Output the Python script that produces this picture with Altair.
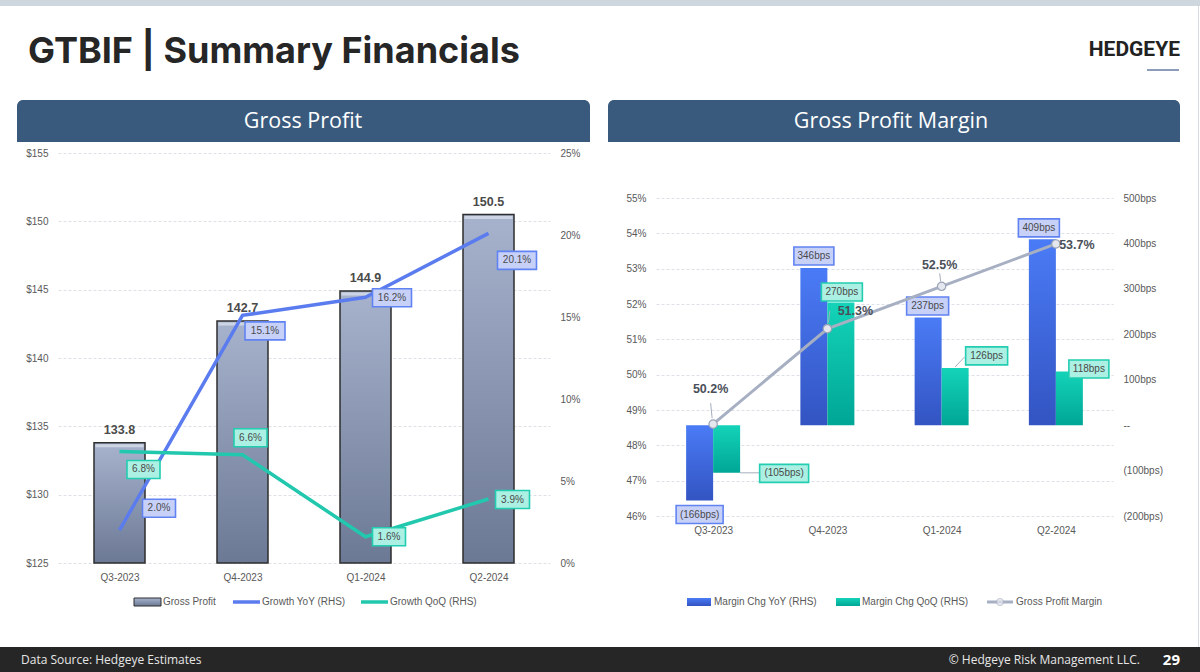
import json
import altair as alt
import pandas as pd

# ---------------- data ----------------
quarters = ["Q3-2023", "Q4-2023", "Q1-2024", "Q2-2024"]
gross_profit = [133.8, 142.7, 144.9, 150.5]            # $M
growth_yoy = [2.0, 15.1, 16.2, 20.1]                   # %
growth_qoq = [6.8, 6.6, 1.6, 3.9]                      # %
gp_margin = [48.6, 51.3, 52.5, 53.7]                   # % (plotted position)
gp_margin_labels = ["50.2%", "51.3%", "52.5%", "53.7%"]  # labels as printed
margin_chg_yoy = [-166, 346, 237, 409]                 # bps
margin_chg_qoq = [-105, 270, 126, 118]                 # bps

gp_ticks = [125, 130, 135, 140, 145, 150, 155]
growth_ticks = [0, 5, 10, 15, 20, 25]
margin_ticks = [46, 47, 48, 49, 50, 51, 52, 53, 54, 55]
bps_ticks = [-200, -100, 0, 100, 200, 300, 400, 500]

# ---------------- layout / style ----------------
L_X0, L_Y0, L_W, L_H = 58, 153, 492, 410
R_X0, R_Y0, R_W, R_H = 656, 153, 457, 363
R_TOP = 198  # pixel row of the top tick in the right panel
_span = R_Y0 + R_H - R_TOP
margin_dom = [margin_ticks[0], margin_ticks[-1] + (R_TOP - R_Y0) * (margin_ticks[-1] - margin_ticks[0]) / _span]
bps_dom = [bps_ticks[0], bps_ticks[-1] + (R_TOP - R_Y0) * (bps_ticks[-1] - bps_ticks[0]) / _span]

AX_FONT = "Liberation Sans, Arial, sans-serif"
HEAD_FONT = "Open Sans, Noto Sans, sans-serif"
LBL_COLOR = "#595959"
GRID = dict(gridColor="#dde1e6", gridWidth=1, gridDash=[3, 2])

BLUE_LINE = "#5b7cef"
TEAL_LINE = "#22c8ad"
BLUE_BOX = ("#c7d1f8", "#6183f2")
TEAL_BOX = ("#acf0e3", "#22cdb1")

# label offsets (dx, dy, box width) in pixels -- styling only
LEFT_YOY_LBL = [(39.5, -22, 33), (22.5, 15.5, 40), (26.5, 0.5, 39), (28.5, 27, 39)]
LEFT_QOQ_LBL = [(24, 18, 33), (8, -17, 33), (23.5, 0, 33), (24, 0.5, 34)]
RIGHT_YOY_LBL = [(-13.5, 14, 47), (-13.5, -12, 40), (-14, -11.5, 42), (-17, -11.5, 41)]
RIGHT_QOQ_LBL = [(71, 0.5, 49), (14.5, -10.5, 41), (45, -12, 42), (33, -2.5, 40)]
MARGIN_LBL = [(-2.5, -35), (28, -18), (-2, -21.5), (21, 1)]


def vgrad(top, bottom):
    return alt.Gradient(
        gradient="linear",
        stops=[alt.GradientStop(color=top, offset=0), alt.GradientStop(color=bottom, offset=1)],
        x1=0, x2=0, y1=0, y2=1,
    )


GRAD_GP = vgrad("#a7b3cd", "#6c7994")
GRAD_BLUE = vgrad("#4a7bf6", "#3354c2")
GRAD_TEAL = vgrad("#14d3b8", "#00a696")


def bps_text(v):
    return f"{v}bps" if v >= 0 else f"({abs(v)}bps)"


df = pd.DataFrame({
    "idx": list(range(len(quarters))),
    "quarter": quarters,
    "gp": gross_profit,
    "yoy": growth_yoy,
    "qoq": growth_qoq,
    "margin": gp_margin,
    "mlabel": gp_margin_labels,
    "myoy": margin_chg_yoy,
    "mqoq": margin_chg_qoq,
})
df["gp_txt"] = [f"{v:.1f}" for v in gross_profit]
df["yoy_txt"] = [f"{v:.1f}%" for v in growth_yoy]
df["qoq_txt"] = [f"{v:.1f}%" for v in growth_qoq]
df["myoy_txt"] = [bps_text(v) for v in margin_chg_yoy]
df["mqoq_txt"] = [bps_text(v) for v in margin_chg_qoq]

# ---------------- scales / axes ----------------
XS = alt.Scale(domain=[-0.5, len(quarters) - 0.5], nice=False, zero=False)
GP_S = alt.Scale(domain=[gp_ticks[0], gp_ticks[-1]], nice=False, zero=False)
GR_S = alt.Scale(domain=[growth_ticks[0], growth_ticks[-1]], nice=False, zero=False)
MG_S = alt.Scale(domain=margin_dom, nice=False, zero=False)
BP_S = alt.Scale(domain=bps_dom, nice=False, zero=False)

AXC = dict(ticks=False, domain=False, title=None, labelFont=AX_FONT, labelFontSize=10,
           labelColor=LBL_COLOR, labelOverlap=False)
x_axis = alt.Axis(orient="bottom", values=list(range(len(quarters))),
                  labelExpr=json.dumps(quarters) + "[datum.value]", grid=False,
                  labelPadding=9, labelFlush=False, **AXC)
gp_axis = alt.Axis(orient="left", values=gp_ticks, labelExpr="'$' + datum.value", grid=True,
                   labelPadding=10, **GRID, **AXC)
gr_axis = alt.Axis(orient="right", values=growth_ticks, labelExpr="datum.value + '%'", grid=False,
                   labelPadding=10, **AXC)
mg_axis = alt.Axis(orient="left", values=margin_ticks, labelExpr="datum.value + '%'", grid=True,
                   labelPadding=10, **GRID, **AXC)
bp_axis = alt.Axis(orient="right", values=bps_ticks,
                   labelExpr="datum.value > 0 ? datum.value + 'bps' : (datum.value < 0 ? '(' + abs(datum.value) + 'bps)' : '--')",
                   grid=False, labelPadding=10, **AXC)

AXIS_OF = {id(GP_S): gp_axis, id(GR_S): gr_axis, id(MG_S): mg_axis, id(BP_S): bp_axis}


def X():
    # the same axis definition is given in every layer so that the merged axis stays enabled
    return alt.X("idx:Q", scale=XS, axis=x_axis)


def Y(field, scale):
    return alt.Y(f"{field}:Q", scale=scale, axis=AXIS_OF[id(scale)])


# ---------------- decoration helpers (pixel positions, absolute page coords) ----------------
ONE = pd.DataFrame({"k": [0]})


def d_rect(o, x1, y1, x2, y2, **kw):
    return alt.Chart(ONE).mark_rect(**kw).encode(
        x=alt.value(x1 - o[0]), x2=alt.value(x2 - o[0]), y=alt.value(y1 - o[1]), y2=alt.value(y2 - o[1]))


def d_rule(o, x1, y1, x2, y2, **kw):
    return alt.Chart(ONE).mark_rule(**kw).encode(
        x=alt.value(x1 - o[0]), x2=alt.value(x2 - o[0]), y=alt.value(y1 - o[1]), y2=alt.value(y2 - o[1]))


def d_text(o, x, y, text, **kw):
    return alt.Chart(ONE).mark_text(text=text, **kw).encode(x=alt.value(x - o[0]), y=alt.value(y - o[1]))


def d_point(o, x, y, **kw):
    return alt.Chart(ONE).mark_point(**kw).encode(x=alt.value(x - o[0]), y=alt.value(y - o[1]))


LO = (L_X0, L_Y0)
RO = (R_X0, R_Y0)
LEG = dict(font=AX_FONT, fontSize=10, color=LBL_COLOR, align="left", baseline="middle")

deco_left = [
    d_rect(LO, 0, 0, 1200, 6, fill="#cfd7de"),
    d_rule(LO, 1198.5, 6, 1198.5, 647, color="#d5dbe2", strokeWidth=1),
    d_text(LO, 28, 63, "GTBIF | Summary Financials", font="Inter, DejaVu Sans, sans-serif", fontSize=36,
           fontWeight=700, color="#262626", align="left", baseline="alphabetic"),
    d_text(LO, 1180, 56, "HEDGEYE", font="Roboto, sans-serif", fontSize=21, fontWeight=700,
           color="#222222", align="right", baseline="alphabetic"),
    d_rule(LO, 1147, 70, 1179, 70, color="#8c9cb9", strokeWidth=2),
    d_rect(LO, 17, 100, 590, 142, fill="#3a5a7d", cornerRadiusTopLeft=6, cornerRadiusTopRight=6),
    d_text(LO, 303, 122, "Gross Profit", font=HEAD_FONT, fontSize=21.5, color="#ffffff",
           align="center", baseline="middle"),
    d_rect(LO, 0, 647, 1200, 672, fill="#262626"),
    d_text(LO, 21, 660, "Data Source: Hedgeye Estimates", font=HEAD_FONT, fontSize=12,
           color="#e6e6e6", align="left", baseline="middle"),
    d_text(LO, 1140, 660, "© Hedgeye Risk Management LLC.", font=HEAD_FONT, fontSize=12,
           color="#e6e6e6", align="right", baseline="middle"),
    d_text(LO, 1180, 660, "29", font=HEAD_FONT, fontSize=15, fontWeight=700,
           color="#ffffff", align="right", baseline="middle"),
    # legend (left panel)
    d_rect(LO, 134, 598, 161, 606, fill=GRAD_GP, stroke="#2e2e2e", strokeWidth=1),
    d_text(LO, 163, 602, "Gross Profit", **LEG),
    d_rule(LO, 233, 602, 260, 602, color=BLUE_LINE, strokeWidth=3.5),
    d_text(LO, 262, 602, "Growth YoY (RHS)", **LEG),
    d_rule(LO, 361, 602, 388, 602, color=TEAL_LINE, strokeWidth=3.5),
    d_text(LO, 390, 602, "Growth QoQ (RHS)", **LEG),
]

deco_right = [
    d_rect(RO, 608, 100, 1180, 142, fill="#3a5a7d", cornerRadiusTopLeft=6, cornerRadiusTopRight=6),
    d_text(RO, 891, 122, "Gross Profit Margin", font=HEAD_FONT, fontSize=21.5, color="#ffffff",
           align="center", baseline="middle"),
    d_rect(RO, 687, 598, 711, 606, fill=GRAD_BLUE),
    d_text(RO, 714, 602, "Margin Chg YoY (RHS)", **LEG),
    d_rect(RO, 836, 598, 860, 606, fill=GRAD_TEAL),
    d_text(RO, 862, 602, "Margin Chg QoQ (RHS)", **LEG),
    d_rule(RO, 987, 602, 1013, 602, color="#a7afc2", strokeWidth=3),
    d_point(RO, 1000, 602, filled=True, size=50, fill="#e4e7ee", stroke="#a7afc2", strokeWidth=1),
    d_text(RO, 1016, 602, "Gross Profit Margin", **LEG),
]


def box_label(i, yfield, scale, txtfield, dx, dy, w, colors, h=18):
    row = df.iloc[[i]]
    rect = alt.Chart(row).mark_rect(
        fill=colors[0], stroke=colors[1], strokeWidth=1.6,
        xOffset=dx - w / 2, x2Offset=dx + w / 2, yOffset=dy - h / 2, y2Offset=dy + h / 2,
    ).encode(x=X(), x2="idx", y=Y(yfield, scale), y2=alt.Y2(yfield))
    txt = alt.Chart(row).mark_text(
        dx=dx, dy=dy, font=AX_FONT, fontSize=10, color="#4a4a4a", align="center", baseline="middle",
    ).encode(x=X(), y=Y(yfield, scale), text=f"{txtfield}:N")
    return [rect, txt]


def leader(i, yfield, scale, x1, y1, x2, y2):
    row = df.iloc[[i]]
    return alt.Chart(row).mark_rule(
        color="#a5adbd", strokeWidth=1, xOffset=x1, yOffset=y1, x2Offset=x2, y2Offset=y2,
    ).encode(x=X(), x2="idx", y=Y(yfield, scale), y2=alt.Y2(yfield))


# ---------------- left panel: Gross Profit ----------------
bars_l = alt.Chart(df).mark_rect(
    fill=GRAD_GP, stroke="#2e2e2e", strokeWidth=1.5, xOffset=-25.5, x2Offset=25.5,
).encode(x=X(), x2="idx", y=Y("gp", GP_S), y2=alt.datum(gp_ticks[0]))
bars_hl = alt.Chart(df).mark_rect(
    fill="#cdd5e5", xOffset=-24, x2Offset=24, yOffset=1.5, y2Offset=4.5,
).encode(x=X(), x2="idx", y=Y("gp", GP_S), y2=alt.Y2("gp"))
bar_lbl = alt.Chart(df).mark_text(
    dy=-13, font=AX_FONT, fontSize=12.5, fontWeight="bold", color="#4a4a4a", baseline="middle",
).encode(x=X(), y=Y("gp", GP_S), text="gp_txt:N")

yoy_line = alt.Chart(df).mark_line(color=BLUE_LINE, strokeWidth=3.5).encode(
    x=X(), y=Y("yoy", GR_S))
qoq_line = alt.Chart(df).mark_line(color=TEAL_LINE, strokeWidth=3.5).encode(
    x=X(), y=Y("qoq", GR_S))

left_labels = []
for i, (dx, dy, w) in enumerate(LEFT_YOY_LBL):
    left_labels += box_label(i, "yoy", GR_S, "yoy_txt", dx, dy, w, BLUE_BOX)
for i, (dx, dy, w) in enumerate(LEFT_QOQ_LBL):
    left_labels += box_label(i, "qoq", GR_S, "qoq_txt", dx, dy, w, TEAL_BOX)

left = alt.layer(
    alt.layer(*deco_left, bars_l, bars_hl, bar_lbl),
    alt.layer(yoy_line, qoq_line, *left_labels),
).resolve_scale(y="independent").properties(width=L_W, height=L_H)

# ---------------- right panel: Gross Profit Margin ----------------
BW = 27
bars_yoy = alt.Chart(df).mark_rect(fill=GRAD_BLUE, xOffset=-BW, x2Offset=0).encode(
    x=X(), x2="idx", y=Y("myoy", BP_S), y2=alt.datum(0))
bars_qoq = alt.Chart(df).mark_rect(fill=GRAD_TEAL, xOffset=0, x2Offset=BW).encode(
    x=X(), x2="idx", y=Y("mqoq", BP_S), y2=alt.datum(0))

right_bps = [
    leader(0, "mqoq", BP_S, BW, 0, 47, 0),
    leader(2, "mqoq", BP_S, 13.5, -1, 23, -11),
]
for i, (dx, dy, w) in enumerate(RIGHT_YOY_LBL):
    right_bps += box_label(i, "myoy", BP_S, "myoy_txt", dx, dy, w, BLUE_BOX)
for i, (dx, dy, w) in enumerate(RIGHT_QOQ_LBL):
    right_bps += box_label(i, "mqoq", BP_S, "mqoq_txt", dx, dy, w, TEAL_BOX)

m_line = alt.Chart(df).mark_line(color="#a7afc2", strokeWidth=3).encode(
    x=X(), y=Y("margin", MG_S))
m_pts = alt.Chart(df).mark_point(filled=True, size=70, fill="#e4e7ee", stroke="#9aa3b7",
                                 strokeWidth=1.2, opacity=1).encode(x=X(), y=Y("margin", MG_S))
m_leaders = [
    leader(0, "margin", MG_S, -2.5, -21, -1, -6),
    leader(1, "margin", MG_S, 2.5, -18, 1, -6),
    leader(2, "margin", MG_S, -2, -13, -1, -5),
]
m_lbls = []
for i, (dx, dy) in enumerate(MARGIN_LBL):
    m_lbls.append(alt.Chart(df.iloc[[i]]).mark_text(
        dx=dx, dy=dy, font=AX_FONT, fontSize=12.5, fontWeight="bold", color="#4a4f5a", baseline="middle",
    ).encode(x=X(), y=Y("margin", MG_S), text="mlabel:N"))

right = alt.layer(
    alt.layer(*deco_right, bars_yoy, bars_qoq, *right_bps),
    alt.layer(m_line, *m_leaders, m_pts, *m_lbls),
).resolve_scale(y="independent").properties(width=R_W, height=R_H)

chart = alt.HConcatChart(
    hconcat=[left, right], spacing=R_X0 - (L_X0 + L_W), bounds="flush",
).properties(padding=0, background="#ffffff").configure_view(stroke=None)

chart.save("out.html", embed_options={"renderer": "svg", "actions": False})
